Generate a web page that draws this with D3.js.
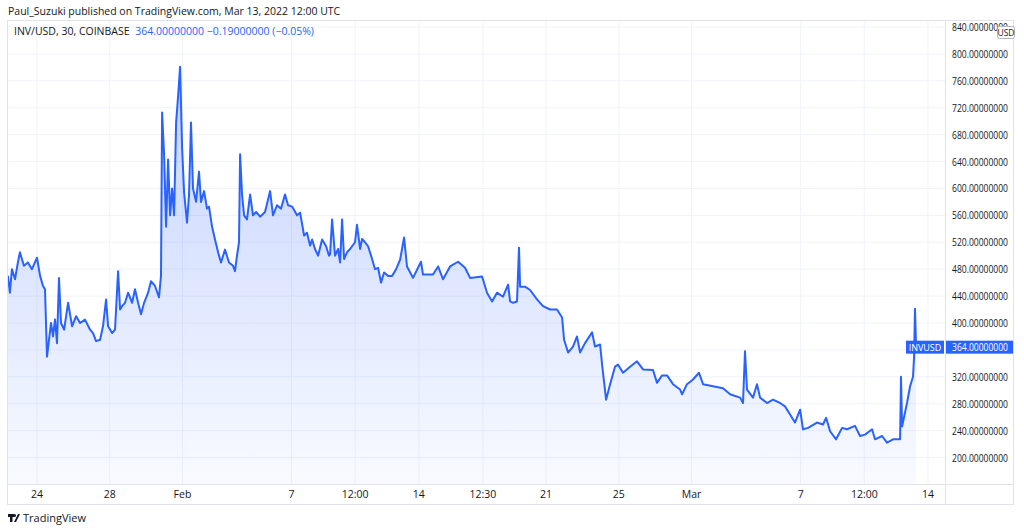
<!DOCTYPE html>
<html><head><meta charset="utf-8">
<script src="https://cdn.jsdelivr.net/npm/d3@7"></script>
<style>body{margin:0;background:#fff;font-family:"Open Sans","Noto Sans",sans-serif;}</style>
</head><body><svg id="c" width="1024" height="532"></svg>
<script>
// days after Jan 24 2022 00:00 UTC, price
const days = [-1.60,-1.49,-1.38,-1.21,-1.05,-0.94,-0.72,-0.50,-0.28,0,0.17,0.33,0.44,0.55,0.66,0.77,0.88,0.99,1.10,1.21,1.32,1.49,1.71,1.93,2.15,2.37,2.64,2.92,3.08,3.25,3.47,3.63,3.80,3.91,4.13,4.29,4.46,4.57,4.68,4.84,5.01,5.23,5.39,5.56,5.72,5.89,6.11,6.27,6.49,6.71,6.82,6.88,6.99,7.10,7.21,7.32,7.43,7.54,7.65,7.76,7.87,7.98,8.09,8.25,8.36,8.47,8.58,8.75,8.91,9.02,9.19,9.35,9.46,9.63,9.79,9.96,10.12,10.34,10.56,10.78,10.89,11.00,11.11,11.17,11.28,11.39,11.55,11.72,11.88,12.05,12.27,12.54,12.82,12.98,13.20,13.42,13.64,13.81,14.03,14.30,14.47,14.69,14.85,15.02,15.13,15.29,15.46,15.68,15.90,16.06,16.12,16.23,16.39,16.56,16.67,16.78,16.89,17.05,17.22,17.49,17.60,17.77,17.88,18.04,18.21,18.43,18.59,18.76,18.92,19.09,19.31,19.53,19.75,19.97,20.19,20.35,20.68,21.12,21.23,21.78,22.06,22.33,22.72,23.16,23.54,23.82,24.48,24.75,25.03,25.30,25.63,25.91,26.02,26.18,26.40,26.51,26.57,26.84,27.12,27.50,27.83,28.22,28.60,28.88,28.99,29.21,29.48,29.70,29.87,30.14,30.53,30.69,30.97,31.08,31.30,31.52,31.79,31.96,32.23,32.62,33.00,33.33,33.88,34.10,34.38,34.65,34.98,35.37,35.48,35.75,36.08,36.41,36.63,37.18,37.73,38.12,38.67,38.83,38.94,39.05,39.38,39.60,39.77,40.15,40.48,40.87,41.14,41.42,41.69,41.97,42.13,42.41,42.90,43.23,43.40,43.62,43.95,44.28,44.55,44.99,45.27,45.54,45.93,46.09,46.48,46.75,47.08,47.47,47.52,47.58,47.85,48.02,48.18,48.24,48.29,48.35];
const prices = [470,445,480,465,490,505,485,490,480,497,470,455,450,350,375,400,380,405,370,467,400,390,430,395,410,400,405,390,385,373,375,395,435,395,385,390,477,420,425,430,445,430,450,430,413,430,445,462,455,438,470,713,650,543,643,560,600,560,698,737,781,660,594,549,590,698,600,580,625,580,596,570,573,543,524,505,490,509,490,485,477,500,520,651,590,560,554,591,560,565,558,565,596,560,575,570,591,575,573,560,564,530,534,515,524,510,500,524,514,500,502,554,500,510,490,554,495,505,510,520,546,510,525,520,514,495,480,482,460,475,470,470,480,494,527,484,467,491,472,472,484,465,484,491,482,467,469,445,432,445,439,457,432,430,432,512,454,454,449,435,425,420,420,408,375,356,365,380,356,370,386,365,368,338,286,309,335,338,326,335,343,331,330,311,322,322,309,301,294,309,316,326,309,306,303,294,289,281,358,301,289,309,289,281,286,281,276,264,252,271,242,244,252,249,259,239,227,244,242,247,232,234,242,227,232,222,227,227,320,246,281,306,320,350,421,364];
const timeTicks = [0,4,8,14,17.5,21,24.52,28,32,36,42,45.5,49];
const timeLabels = ["24","28","Feb","7","12:00","14","12:30","21","25","Mar","7","12:00","14"];
const priceTicks = [200,240,280,320,360,400,440,480,520,560,600,640,680,720,760,800,840];
const lastPrice = 364;

const svg = d3.select("#c");
const t0 = Date.UTC(2022,0,24);
const DAY = 864e5;
const x = d3.scaleUtc().domain([new Date(t0-1.65*DAY), new Date(t0+49.94*DAY)]).range([7,945]);
const y = d3.scaleLinear().domain([200,840]).range([457.5,27]);
const pts = days.map((d,i)=>({t:new Date(t0+d*DAY), v:prices[i]}));

svg.append("text").attr("x",8).attr("y",15).attr("font-size",10.5).attr("fill","#131722")
  .text("Paul_Suzuki published on TradingView.com, Mar 13, 2022 12:00 UTC");

// frame
svg.append("rect").attr("x",7.5).attr("y",20.5).attr("width",1006).attr("height",484).attr("fill","none").attr("stroke","#e0e3eb");
svg.append("line").attr("x1",945.5).attr("x2",945.5).attr("y1",20).attr("y2",505).attr("stroke","#e0e3eb");
svg.append("line").attr("x1",7).attr("x2",1014).attr("y1",484.5).attr("y2",484.5).attr("stroke","#e0e3eb");

// grid
const g = svg.append("g");
g.selectAll("line.v").data(timeTicks).join("line").attr("class","v")
  .attr("x1",d=>x(new Date(t0+d*DAY))).attr("x2",d=>x(new Date(t0+d*DAY)))
  .attr("y1",21).attr("y2",484).attr("stroke","#f0f3fa");
g.selectAll("line.h").data(priceTicks).join("line").attr("class","h")
  .attr("x1",8).attr("x2",945).attr("y1",d=>y(d)).attr("y2",d=>y(d)).attr("stroke","#f0f3fa");

const defs = svg.append("defs");
const grad = defs.append("linearGradient").attr("id","ag").attr("x1",0).attr("x2",0).attr("y1",0).attr("y2",1);
grad.append("stop").attr("offset","0%").attr("stop-color","#2962ff").attr("stop-opacity",0.28);
grad.append("stop").attr("offset","100%").attr("stop-color","#2962ff").attr("stop-opacity",0.03);
defs.append("clipPath").attr("id","pc").append("rect").attr("x",8).attr("y",21).attr("width",937).attr("height",463);

const area = d3.area().x(d=>x(d.t)).y0(484).y1(d=>y(d.v));
const line = d3.line().x(d=>x(d.t)).y(d=>y(d.v));
const pg = svg.append("g").attr("clip-path","url(#pc)");
pg.append("path").attr("d",area(pts)).attr("fill","url(#ag)");
pg.append("path").attr("d",line(pts)).attr("fill","none").attr("stroke","#2962ff").attr("stroke-width",2).attr("stroke-linejoin","round");

// axes labels (the one hidden behind the last-price tag is skipped)
const ly = y(lastPrice);
svg.append("g").selectAll("text").data(priceTicks.filter(d=>Math.abs(y(d)-ly)>10)).join("text")
  .attr("x",952).attr("y",d=>y(d)+4).attr("font-size",10).attr("fill","#131722")
  .attr("textLength",56).attr("lengthAdjust","spacingAndGlyphs")
  .text(d=>d.toFixed(8));
svg.append("g").selectAll("text").data(timeTicks).join("text")
  .attr("x",d=>x(new Date(t0+d*DAY))).attr("y",498).attr("text-anchor","middle")
  .attr("font-size",10.5).attr("fill","#131722").text((d,i)=>timeLabels[i]);

// USD badge
svg.append("rect").attr("x",997.5).attr("y",26.5).attr("width",17).attr("height",12).attr("rx",2).attr("fill","#fff").attr("stroke","#b2b5be");
svg.append("text").attr("x",1006).attr("y",36).attr("text-anchor","middle").attr("font-size",8.5).attr("fill","#131722").text("USD");

// last price labels
svg.append("rect").attr("x",906).attr("y",ly-6.5).attr("width",38).attr("height",13).attr("fill","#2962ff");
svg.append("text").attr("x",925).attr("y",ly+4).attr("text-anchor","middle").attr("font-size",9).attr("fill","#fff").text("INVUSD");
svg.append("rect").attr("x",946).attr("y",ly-6.5).attr("width",67).attr("height",13).attr("fill","#2962ff");
svg.append("text").attr("x",952).attr("y",ly+4).attr("font-size",10).attr("fill","#fff")
  .attr("textLength",56).attr("lengthAdjust","spacingAndGlyphs").text(lastPrice.toFixed(8));

// legend
const lg = svg.append("text").attr("x",14).attr("y",35).attr("font-size",10.5);
lg.append("tspan").attr("fill","#131722").text("INV/USD, 30, COINBASE ");
lg.append("tspan").attr("fill","#2962ff").attr("dx",3).text("364.00000000  \u22120.19000000 (\u22120.05%)");

// footer logo
const lgG = svg.append("g").attr("transform","translate(8,513)");
lgG.append("rect").attr("x",0).attr("y",1).attr("width",6).attr("height",3).attr("fill","#131722");
lgG.append("rect").attr("x",2).attr("y",1).attr("width",2.5).attr("height",8).attr("fill","#131722");
lgG.append("path").attr("d","M6,9 L10,1 L12,1 L8,9 Z").attr("fill","#131722");
lgG.append("circle").attr("cx",6.5).attr("cy",2.5).attr("r",1.5).attr("fill","#131722");
svg.append("text").attr("x",23).attr("y",522).attr("font-size",11).attr("fill","#131722").text("TradingView");
</script></body></html>
